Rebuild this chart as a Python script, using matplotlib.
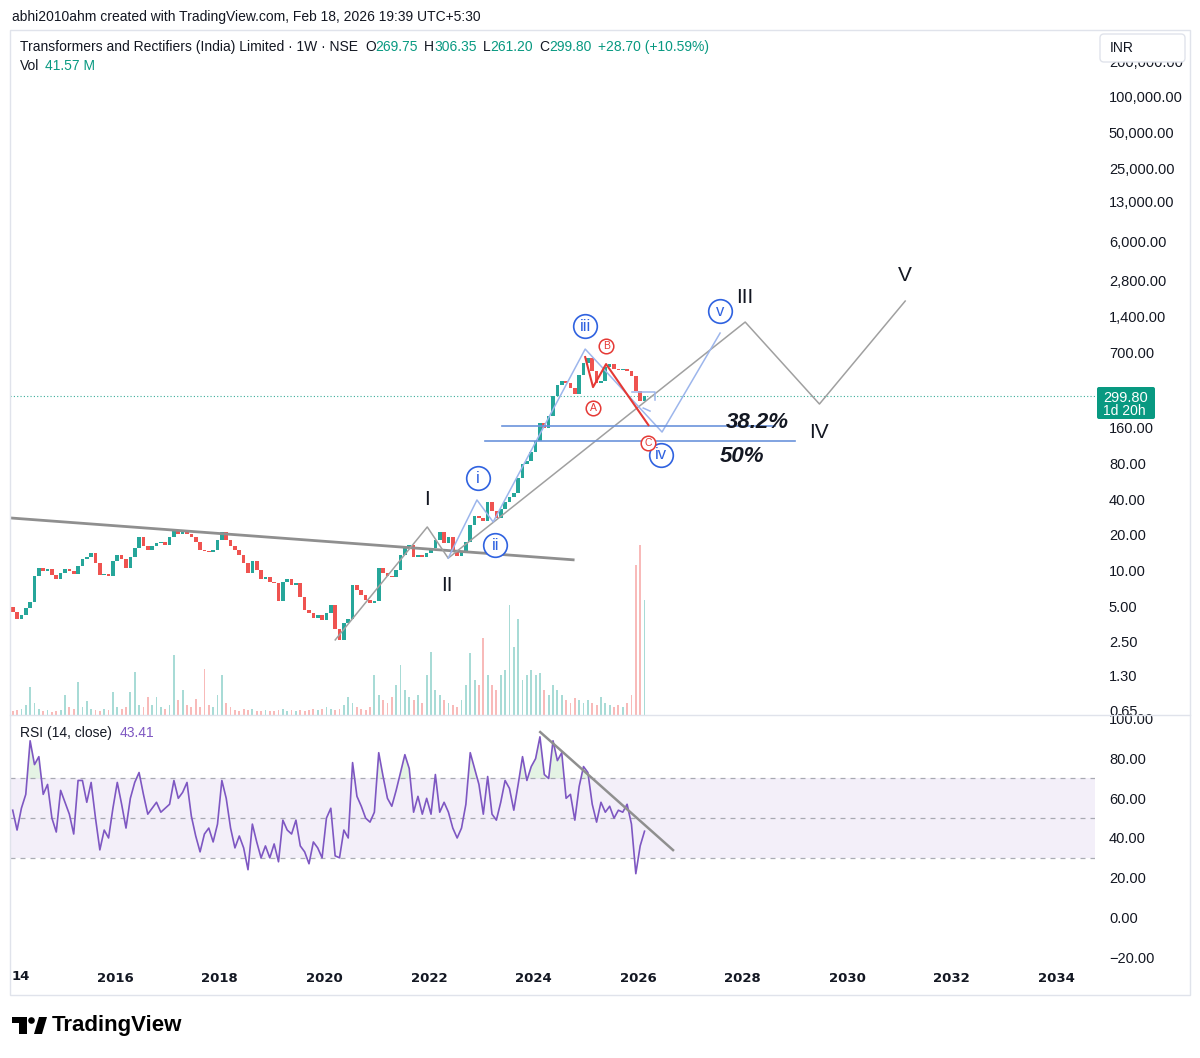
import numpy as np
import matplotlib
matplotlib.use('Agg')
import matplotlib.pyplot as plt
from matplotlib.patches import Rectangle, FancyBboxPatch, Circle, Polygon
from matplotlib.ticker import FixedLocator, FuncFormatter

W, H = 1200, 1058
plt.rcParams['font.family'] = ['Liberation Sans', 'DejaVu Sans']

DARK = '#131722'
TEAL = '#089981'
UP, DOWN = '#26a69a', '#ef5350'
PURPLE = '#7e57c2'
BLUE = '#2f62e0'
LBLUE = '#9db6ec'
FIBBLUE = '#6b93dc'
RED = '#e53935'
GREY = '#8f8f8f'

# ---- monthly data (Jan 2014 .. Feb 2026) ----
FIRST_OPEN = 4.9
closes = [
    4.5, 3.9, 4.2, 4.8, 5.4, 9.0, 10.5, 9.8, 10.2, 9.2, 8.4, 9.6,            # 2014
    10.3, 9.8, 9.3, 11.0, 12.5, 13.0, 14.0, 11.5, 9.2, 9.4, 9.0, 12.0,       # 2015
    13.5, 12.5, 10.4, 13.0, 15.5, 19.0, 16.0, 15.0, 16.0, 17.0, 17.5, 16.5,  # 2016
    19.0, 21.5, 20.5, 22.0, 20.5, 19.0, 17.5, 15.0, 14.5, 14.2, 14.8, 18.0,  # 2017
    21.0, 18.0, 16.0, 15.0, 13.4, 11.5, 9.5, 12.0, 10.0, 8.5, 8.8, 8.0,      # 2018
    7.8, 5.5, 8.0, 8.5, 7.5, 7.8, 6.0, 4.6, 4.4, 4.0, 4.2, 3.8,              # 2019
    4.4, 5.1, 3.2, 2.6, 3.6, 3.9, 7.5, 6.8, 6.2, 5.6, 5.3, 5.5,              # 2020
    10.5, 9.6, 9.0, 8.8, 10.0, 13.5, 15.5, 16.5, 13.0, 13.5, 13.0, 14.0,     # 2021
    15.5, 18.0, 21.0, 17.0, 19.0, 15.0, 13.2, 14.5, 17.5, 24.0, 29.0, 28.0,  # 2022
    26.0, 38.0, 32.0, 28.0, 33.0, 38.0, 42.0, 45.0, 60.0, 80.0, 84.0, 100.0, # 2023
    125, 175, 160, 200, 300, 370, 400, 380, 350, 310, 450, 570,              # 2024
    620, 480, 380, 400, 520, 550, 500, 490, 500, 480, 440, 330,              # 2025
    270, 299.80,                                                             # 2026
]
volumes_m = [
    1.4, 1.8, 2.2, 3.6, 10.1, 4.3, 2.2, 1.4, 1.8, 1.1, 1.4, 1.8,
    7.2, 2.9, 2.2, 11.9, 2.9, 5.0, 2.2, 1.8, 1.4, 2.2, 1.8, 8.3,
    2.9, 2.2, 2.9, 8.3, 15.5, 3.6, 2.9, 6.5, 3.6, 6.5, 2.9, 2.2,
    3.6, 21.6, 5.4, 9.0, 3.6, 2.9, 5.8, 2.9, 16.6, 3.6, 2.9, 7.2,
    14.4, 4.3, 2.9, 1.8, 1.4, 2.2, 1.8, 2.2, 1.4, 1.4, 1.8, 1.4,
    1.4, 1.8, 2.2, 1.4, 1.8, 1.4, 1.8, 1.4, 1.8, 2.2, 1.8, 2.2,
    2.9, 2.2, 1.8, 2.2, 3.6, 6.5, 4.3, 2.9, 2.2, 1.8, 2.9, 14.4,
    7.2, 5.4, 4.3, 6.5, 10.8, 18.0, 9.0, 6.5, 5.4, 7.2, 4.3, 14.4,
    22.7, 9.0, 7.2, 5.4, 4.3, 3.6, 2.9, 5.4, 10.8, 22.3, 12.6, 10.8,
    27.7, 14.4, 10.8, 9.0, 14.4, 16.2, 39.6, 24.5, 34.6, 12.6, 14.4, 16.2,
    14.4, 15.1, 9.0, 7.2, 10.8, 9.0, 7.2, 5.4, 4.3, 6.1, 5.4, 4.3,
    5.4, 4.3, 3.6, 6.5, 4.3, 3.6, 2.9, 3.6, 2.9, 4.3, 7.2, 54.0,
    61.2, 41.57,
]
rsi_vals = [
    54, 44, 55, 62, 89, 77, 81, 62, 67, 50, 43, 64,
    58, 52, 42, 69, 69, 58, 68, 50, 34, 44, 40, 55,
    68, 57, 45, 60, 68, 73, 62, 52, 55, 58, 53, 55,
    57, 69, 60, 63, 68, 51, 41, 33, 42, 45, 38, 47,
    69, 60, 45, 35, 41, 35, 24, 47, 38, 30, 36, 30,
    37, 28, 49, 44, 42, 49, 36, 33, 27, 38, 35, 30,
    50, 55, 31, 30, 44, 40, 78, 61, 56, 50, 48, 53,
    83, 71, 60, 56, 64, 73, 82, 75, 53, 61, 52, 60,
    52, 72, 53, 58, 53, 45, 40, 45, 57, 83, 75, 67,
    52, 71, 52, 49, 58, 69, 65, 54, 67, 81, 69, 76,
    80, 91, 72, 70, 89, 79, 83, 60, 62, 49, 66, 76,
    73, 57, 48, 58, 53, 56, 50, 54, 53, 57, 47, 22,
    36, 43.41,
]

price_ticks = [200000, 100000, 50000, 25000, 13000, 6000, 2800, 1400, 700, 320,
               160, 80, 40, 20, 10, 5, 2.5, 1.3, 0.65]
rsi_ticks = [100, 80, 60, 40, 20, 0, -20]
year_ticks = list(range(2016, 2035, 2))

# Elliott-wave drawings (year, price)
trend_line = ([2014.03, 2024.76], [27.7, 12.3])
primary_wave = ([2020.21, 2021.97, 2022.37, 2028.05, 2029.47, 2031.11],
                [2.59, 23.3, 12.7, 1255, 254.7, 1888])
minor_wave = ([2022.37, 2022.92, 2023.23, 2024.99, 2026.46, 2027.57],
              [12.7, 39.4, 25.7, 742, 147.7, 1013])
abc_wave = ([2024.99, 2025.14, 2025.39, 2026.20], [635, 354, 554, 169])
fib_levels = [(2023.40, 2028.62, 166, '38.2%', 2028.28, 179.5),
              (2023.08, 2029.01, 124, '50%', 2027.99, 90.9)]
primary_labels = [('I', 2021.97, 39.4), ('II', 2022.35, 7.53), ('III', 2028.05, 2040),
                  ('IV', 2029.47, 147.7), ('V', 2031.11, 3129)]
minor_labels = [('i', 2022.94, 60.4), ('ii', 2023.27, 16.4), ('iii', 2024.99, 1161),
                ('iv', 2026.44, 94.5), ('v', 2027.57, 1554)]
abc_labels = [('A', 2025.14, 235.6), ('B', 2025.39, 786.7), ('C', 2026.20, 119.3)]
rsi_trend = ([2024.13, 2026.67], [93.4, 33.9])

# ---- figure ----
fig = plt.figure(figsize=(W / 100, H / 100), dpi=100, facecolor='white')


def frac(x0, y0, x1, y1):
    return [x0 / W, 1 - y1 / H, (x1 - x0) / W, (y1 - y0) / H]


XMIN, XMAX = 2013.99, 2034.74
ax = fig.add_axes(frac(10, 30, 1095, 715))
ar = fig.add_axes(frac(10, 715, 1095, 965), sharex=ax)
axv = ax.twinx()
ax.set_zorder(axv.get_zorder() + 1)
ax.patch.set_visible(False)

n = len(closes)
t = 2014 + np.arange(n) / 12 + 1 / 24
c = np.array(closes, dtype=float)
o = np.r_[FIRST_OPEN, c[:-1]]
up = c >= o
cols = np.where(up, UP, DOWN)

# volume
axv.bar(t, volumes_m, width=0.035, color=cols, alpha=0.4, linewidth=0)
axv.set_ylim(0, 61.2 * 685 / 170)
axv.axis('off')

# candles
ax.bar(t, np.abs(c - o), bottom=np.minimum(o, c), width=0.07, color=cols, linewidth=0, zorder=3)
ax.set_yscale('log')
ax.set_xlim(XMIN, XMAX)
ax.set_ylim(0.601, 368000)
ax.axhline(closes[-1], color=TEAL, lw=0.8, ls=(0, (1, 2)), alpha=0.8, zorder=1)

# drawings
ax.plot(*trend_line, color=GREY, lw=2, zorder=4)
ax.plot(*primary_wave, color='#a0a0a0', lw=1.1, zorder=4)
ax.plot(*minor_wave, color=LBLUE, lw=1.1, zorder=4)
ax.plot(*abc_wave, color=RED, lw=1.5, zorder=5)
ax.plot([2025.89, 2026.33, 2026.33], [321.6, 321.6, 275], color=LBLUE, lw=1.1, zorder=4)
ax.plot([2026.10, 2026.23], [235.6, 222], color=LBLUE, lw=1.1, zorder=4)
for x0, x1, lv, txt, tx, ty in fib_levels:
    ax.plot([x0, x1], [lv, lv], color=FIBBLUE, lw=1.2, zorder=4)
    ax.text(tx, ty, txt, ha='center', va='center', fontsize=16, fontweight='bold',
            fontstyle='italic', color=DARK, zorder=6)
for txt, x, y in primary_labels:
    ax.text(x, y, txt, ha='center', va='center', fontsize=15, color=DARK, zorder=6)
for txt, x, y in minor_labels:
    ax.plot(x, y, 'o', ms=17, mfc='white', mec=BLUE, mew=1.2, zorder=6)
    ax.text(x, y, txt, ha='center', va='center', fontsize=12, color=BLUE, zorder=7)
for txt, x, y in abc_labels:
    ax.plot(x, y, 'o', ms=10.5, mfc='white', mec=RED, mew=1.1, zorder=6)
    ax.text(x, y, txt, ha='center', va='center', fontsize=7.5, color=RED, zorder=7)

ax.yaxis.tick_right()
ax.yaxis.set_major_locator(FixedLocator(price_ticks))
ax.yaxis.set_minor_locator(FixedLocator([]))
ax.yaxis.set_major_formatter(FuncFormatter(lambda v, p: f'{v:,.2f}'))
ax.tick_params(axis='y', length=0, pad=10, labelsize=10.5, labelcolor=DARK)
ax.tick_params(axis='x', length=0, labelbottom=False)
for s in ax.spines.values():
    s.set_visible(False)

# RSI pane
rsi = np.array(rsi_vals, dtype=float)
ar.axhspan(30, 70, color=PURPLE, alpha=0.09, lw=0)
for lv in (70, 50, 30):
    ar.axhline(lv, color='#9598a1', lw=0.9, ls=(0, (4, 4)), alpha=0.8)
ar.fill_between(t, rsi, 70, where=rsi > 70, interpolate=True, color='#4caf50', alpha=0.15, lw=0)
ar.plot(t, rsi, color=PURPLE, lw=1.2)
ar.plot(*rsi_trend, color=GREY, lw=1.8)
ar.set_ylim(-24.03, 102.0)
ar.yaxis.tick_right()
ar.yaxis.set_major_locator(FixedLocator(rsi_ticks))
ar.yaxis.set_major_formatter(FuncFormatter(lambda v, p: f'{v:.2f}'.replace('-', '\u2212')))
ar.tick_params(axis='y', length=0, pad=10, labelsize=10.5, labelcolor=DARK)
ar.xaxis.set_major_locator(FixedLocator(year_ticks))
ar.xaxis.set_major_formatter(FuncFormatter(lambda v, p: f'{int(round(v))}'))
ar.tick_params(axis='x', length=0, pad=5, labelsize=9.5, labelcolor=DARK)
for lab in ar.get_xticklabels():
    lab.set_fontweight('bold')
    lab.set_fontfamily('DejaVu Sans')
for s in ar.spines.values():
    s.set_visible(False)
ar.set_xlim(XMIN, XMAX)

# ---- overlay in pixel coordinates ----
ov = fig.add_axes([0, 0, 1, 1], zorder=20)
ov.set_xlim(0, W)
ov.set_ylim(H, 0)
ov.axis('off')
ov.patch.set_alpha(0)
ov.add_patch(Rectangle((10, 30), 1180, 965, fill=False, ec='#e0e3eb', lw=1))
ov.plot([10, 1190], [715, 715], color='#e0e3eb', lw=1)
ov.add_patch(FancyBboxPatch((1100, 34), 85, 28, boxstyle='round,pad=0,rounding_size=4',
                            fc='white', ec='#e0e3eb', lw=1))
ov.text(1110, 47.5, 'INR', fontsize=10, color=DARK, va='center')
ov.add_patch(FancyBboxPatch((1097, 387), 58, 32, boxstyle='round,pad=0,rounding_size=2',
                            fc=TEAL, ec='none'))
ov.text(1103, 397.5, '299.80', fontsize=10.5, color='white', va='center')
ov.text(1103, 411, '1d 20h', fontsize=10, color='white', va='center')
ov.text(12, 976, '14', fontsize=9.5, fontweight='bold', family='DejaVu Sans', color=DARK, va='center')

# logo
ov.add_patch(Rectangle((12, 1017), 15, 6, fc='black', ec='none'))
ov.add_patch(Rectangle((19, 1017), 8, 17, fc='black', ec='none'))
ov.add_patch(Circle((31.5, 1020.5), 3.3, fc='black', ec='none'))
ov.add_patch(Polygon([(34, 1034), (42, 1034), (47, 1017), (39, 1017)], fc='black', ec='none'))
ov.text(52, 1026, 'TradingView', fontsize=16, fontweight='bold', color='black', va='center')

renderer = fig.canvas.get_renderer()


def seq(x, y, parts, size=10):
    for s, colr, gap in parts:
        tx = ov.text(x, y, s, color=colr, fontsize=size, va='center', ha='left')
        x += tx.get_window_extent(renderer).width + gap


seq(12, 17, [('abhi2010ahm created with TradingView.com, Feb 18, 2026 19:39 UTC+5:30', DARK, 0)], 10)
seq(20, 47, [('Transformers and Rectifiers (India) Limited · 1W · NSE', DARK, 7),
             ('O', DARK, 0), ('269.75', TEAL, 6), ('H', DARK, 0), ('306.35', TEAL, 6),
             ('L', DARK, 0), ('261.20', TEAL, 6), ('C', DARK, 0), ('299.80', TEAL, 7),
             ('+28.70 (+10.59%)', TEAL, 0)], 10)
seq(20, 66, [('Vol', DARK, 6), ('41.57 M', TEAL, 0)], 10)
seq(20, 733, [('RSI (14, close)', DARK, 8), ('43.41', PURPLE, 0)], 10)

fig.savefig('out.png', dpi=100, facecolor='white')
